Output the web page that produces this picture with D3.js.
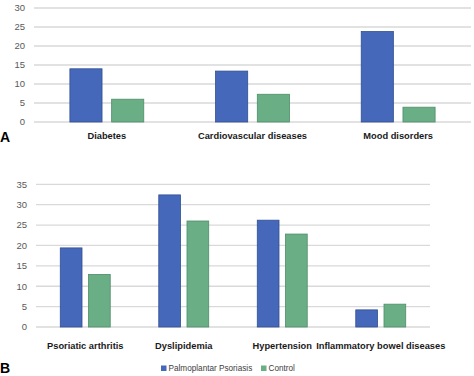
<!DOCTYPE html>
<html><head><meta charset="utf-8">
<script src="https://cdn.jsdelivr.net/npm/d3@7"></script>
<style>body{margin:0;background:#fff}svg{display:block}</style>
</head><body>
<svg id="c" width="474" height="376"></svg>
<script>
const seriesNames = ["Palmoplantar Psoriasis", "Control"];
const colors = ["#4668bb", "#6aae86"];
const strokes = ["#304f90", "#4e8d68"];

const catsA = ["Diabetes", "Cardiovascular diseases", "Mood disorders"];
const psoA = [14, 13.4, 23.8];
const ctlA = [6, 7.3, 3.9];
const ticksA = [0, 5, 10, 15, 20, 25, 30];

const catsB = ["Psoriatic arthritis", "Dyslipidemia", "Hypertension", "Inflammatory bowel diseases"];
const psoB = [19.4, 32.4, 26.2, 4.2];
const ctlB = [12.9, 26.0, 22.8, 5.6];
const ticksB = [0, 5, 10, 15, 20, 25, 30, 35];

const svg = d3.select("#c");
const font = "Arial, 'Liberation Sans', sans-serif";

function panel(cats, pso, ctl, ticks, x0, x1, y0, y1, ymax, tickX, labY) {
  const g = svg.append("g");
  const y = d3.scaleLinear().domain([0, ymax]).range([y0, y1]);
  const x = d3.scaleBand().domain(cats).range([x0, x1]).paddingInner(0).paddingOuter(0);
  const inner = d3.scaleBand().domain([0, 1]).range([0, x.bandwidth()]).paddingInner(0.23).paddingOuter(0.86);
  g.selectAll("line.grid").data(ticks).join("line")
    .attr("x1", x0).attr("x2", x1)
    .attr("y1", d => y(d)).attr("y2", d => y(d))
    .attr("stroke", "#d9d9d9").attr("stroke-width", 1.3);
  g.selectAll("text.tick").data(ticks).join("text")
    .attr("x", tickX).attr("y", d => y(d)).attr("dy", "0.35em")
    .attr("text-anchor", "end").attr("font-family", font).attr("font-size", 9.5)
    .attr("fill", "#595959").text(d => d);
  const data = [];
  cats.forEach((c, i) => { data.push({c, s: 0, v: pso[i]}); data.push({c, s: 1, v: ctl[i]}); });
  g.selectAll("rect").data(data).join("rect")
    .attr("x", d => x(d.c) + inner(d.s)).attr("width", inner.bandwidth())
    .attr("y", d => y(d.v)).attr("height", d => y(0) - y(d.v))
    .attr("fill", d => colors[d.s]).attr("stroke", d => strokes[d.s]).attr("stroke-width", 0.8);
  g.selectAll("text.cat").data(cats).join("text")
    .attr("x", d => x(d) + x.bandwidth() / 2).attr("y", labY)
    .attr("text-anchor", "middle").attr("font-family", font).attr("font-size", 9.3)
    .attr("font-weight", "bold").attr("fill", "#1a1a1a").text(d => d);
}

panel(catsA, psoA, ctlA, ticksA, 34, 471, 122, 8, 30, 25, 139);
panel(catsB, psoB, ctlB, ticksB, 36, 430, 327, 184.3, 35, 27, 349);

svg.append("text").attr("x", 0).attr("y", 142).attr("font-family", font)
  .attr("font-size", 14).attr("font-weight", "bold").attr("fill", "#000").text("A");
svg.append("text").attr("x", 0).attr("y", 373).attr("font-family", font)
  .attr("font-size", 14).attr("font-weight", "bold").attr("fill", "#000").text("B");

const legX = [161, 261];
const lg = svg.append("g");
seriesNames.forEach((n, i) => {
  lg.append("rect").attr("x", legX[i]).attr("y", 365.5).attr("width", 5.5).attr("height", 5.5).attr("fill", colors[i]);
  lg.append("text").attr("x", legX[i] + 7.5).attr("y", 368.5).attr("dy", "0.35em")
    .attr("font-family", font).attr("font-size", 8.2).attr("fill", "#404040").text(n);
});
</script>
</body></html>
